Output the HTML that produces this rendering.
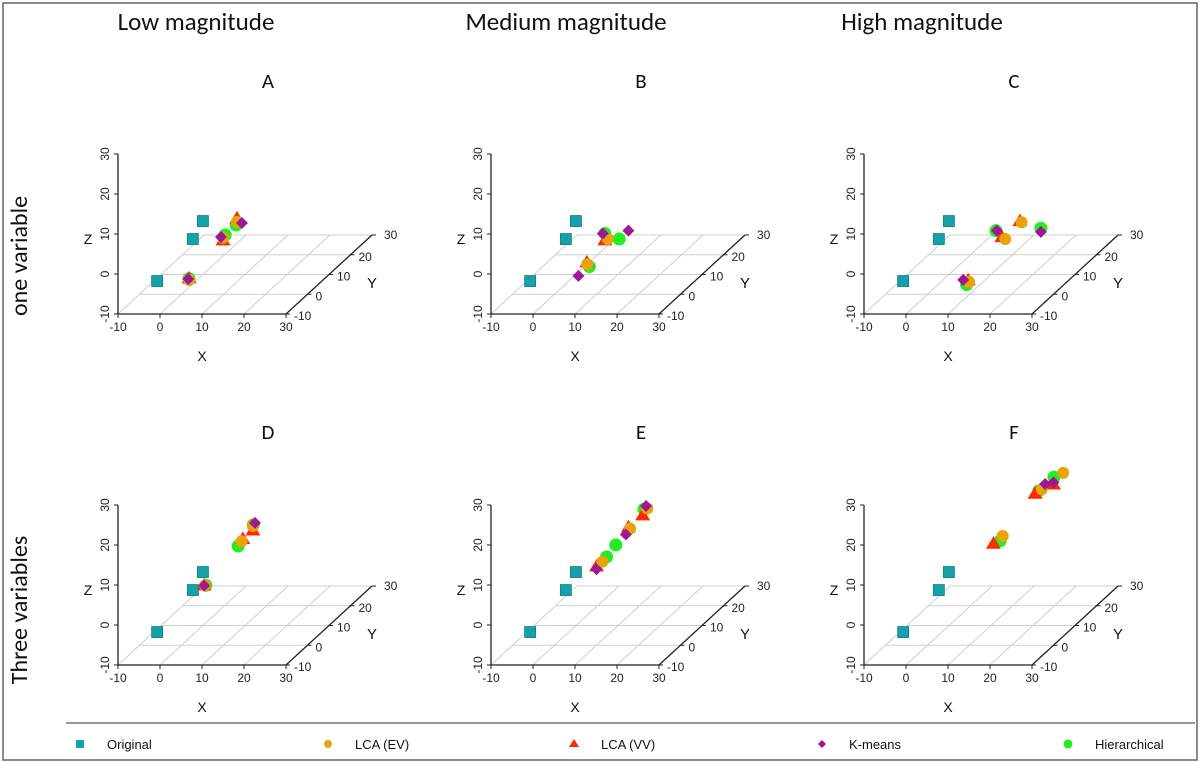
<!DOCTYPE html>
<html><head><meta charset="utf-8">
<style>
html,body{margin:0;padding:0;background:#fff;}
svg{display:block;font-family:"Liberation Sans",sans-serif;}
</style></head>
<body>
<svg id="fig" width="1200" height="763" viewBox="0 0 1200 763" xmlns="http://www.w3.org/2000/svg">
<rect x="3" y="3" width="1194" height="757" fill="#fff" stroke="#666" stroke-width="1.5"/>
<g font-family="Carlito,'Liberation Sans',sans-serif" fill="#111" text-anchor="middle">
<text x="196" y="30" font-size="25">Low magnitude</text>
<text x="566" y="30" font-size="25">Medium magnitude</text>
<text x="922" y="30" font-size="25">High magnitude</text>
<text transform="translate(27,256) rotate(-90)" font-size="24">one variable</text>
<text transform="translate(27,610) rotate(-90)" font-size="24">Three variables</text>
</g>
<line x1="66" y1="723" x2="1195" y2="723" stroke="#333" stroke-width="1"/>
<g id="legend" font-size="13" fill="#111"></g>
<g id="panels"></g>
</svg>
<script>
// Original points (same in every panel), y assumed 0
const origX = [-5.8, 2.7, 5.1];
const origZ = [-6.7, 3.8, 8.3];
const panelIds = ['A','B','C','D','E','F'];
// [x, z] pairs per panel
const lcaEV = {
  A: [[1.8,-6.4],[9.9,4.1],[13.2,8.1]],
  B: [[7.8,-2.5],[12.7,3.8]],
  C: [[9.9,-6.9],[18.5,3.8],[22.4,8.0]],
  D: [[5.6,5.0],[14.3,16.0],[17.0,19.8]],
  E: [[11.4,10.9],[18.0,19.2],[22.1,24.2]],
  F: [[17.9,17.3],[27.2,29.0],[32.3,33.1]]
};
const lcaVV = {
  A: [[1.8,-5.9],[9.9,3.6],[13.2,9.1]],
  B: [[7.7,-1.9],[12.0,3.6]],
  C: [[9.7,-6.4],[17.7,4.4],[22.0,8.4]],
  D: [[5.4,5.1],[14.6,16.7],[17.0,18.8]],
  E: [[10.0,9.8],[17.6,19.6],[21.0,22.6]],
  F: [[15.7,15.5],[25.6,28.0],[30.0,30.3]]
};
const kmeans = {
  A: [[1.6,-6.2],[9.4,4.3],[14.4,7.8]],
  B: [[5.7,-5.4],[11.5,5.2],[17.6,5.9]],
  C: [[8.5,-6.4],[16.5,5.9],[27.0,5.6]],
  D: [[5.4,4.9],[17.5,20.6]],
  E: [[10.0,9.0],[17.0,17.7],[21.8,24.8]],
  F: [[28.0,30.3],[30.0,30.7]]
};
const hier = {
  A: [[1.8,-6.1],[10.4,4.8],[13.0,7.3]],
  B: [[8.3,-3.1],[12.0,5.2],[15.4,3.8]],
  C: [[9.3,-7.6],[16.3,5.9],[27.0,6.5]],
  D: [[5.8,5.0],[13.5,14.8],[17.1,20.1]],
  E: [[12.4,12.1],[14.6,15.1],[21.3,24.0]],
  F: [[17.3,16.1],[26.5,28.6],[30.1,32.0]]
};
const tickVals = [-10, 0, 10, 20, 30];
const legendLabels = ['Original','LCA (EV)','LCA (VV)','K-means','Hierarchical'];

const NS = 'http://www.w3.org/2000/svg';
const colX = [118, 491, 864], rowY = [314, 665];
function mk(tag, attrs, parent){const e=document.createElementNS(NS,tag);for(const k in attrs)e.setAttribute(k,attrs[k]);parent.appendChild(e);return e;}
function proj(o, x, y, z){return [o[0]+(x+10)*4.2+(y+10)*2.15, o[1]-(z+10)*4-(y+10)*1.975];}

function marker(g, kind, cx, cy){
  let e;
  if(kind===0){e=mk('rect',{x:cx-5.5,y:cy-5.5,width:11,height:11,fill:'#17a0a8',stroke:'#0e7f88','stroke-width':0.8},g);}
  else if(kind===1){e=mk('circle',{cx:cx,cy:cy,r:6,fill:'#e8a30e'},g);}
  else if(kind===2){e=mk('polygon',{points:`${cx},${cy-7} ${cx-7.5},${cy+5.5} ${cx+7.5},${cy+5.5}`,fill:'#ff2a00'},g);}
  else if(kind===3){e=mk('polygon',{points:`${cx},${cy-6} ${cx+6},${cy} ${cx},${cy+6} ${cx-6},${cy}`,fill:'#9c1894'},g);}
  else {e=mk('circle',{cx:cx,cy:cy,r:6.5,fill:'#22ee22'},g);}
  return e;
}
const panelsG = document.getElementById('panels');
panelIds.forEach((id, i)=>{
  const o=[colX[i%3], rowY[Math.floor(i/3)]];
  const g=mk('g',{},panelsG);
  
  
  const t=mk('text',{x:o[0]+150,y:o[1]-226,'font-size':21,'text-anchor':'middle',fill:'#111','font-family':"Carlito,'Liberation Sans',sans-serif"},g);
  t.textContent=id;
  
  
  tickVals.forEach(v=>{
    const a=proj(o,-10,v,-10), b=proj(o,30,v,-10);
    if(v>-10){const l=mk('line',{x1:a[0],y1:a[1],x2:b[0],y2:b[1],stroke:'#cfcfcf','stroke-width':1},g);
      }
    const c=proj(o,v,-10,-10), d=proj(o,v,30,-10);
    if(v<30){const l2=mk('line',{x1:c[0],y1:c[1],x2:d[0],y2:d[1],stroke:'#cfcfcf','stroke-width':1},g);
      }
  });
  const zA=proj(o,-10,-10,-10), zB=proj(o,-10,-10,30), xB=proj(o,30,-10,-10), yB=proj(o,30,30,-10);
  [[zA,zB,'z-axis'],[zA,xB,'x-axis'],[xB,yB,'y-axis']].forEach(s=>{
    const l=mk('line',{x1:s[0][0],y1:s[0][1],x2:s[1][0],y2:s[1][1],stroke:'#222','stroke-width':1.3},g);
    
  });
  tickVals.forEach(v=>{
    const pz=proj(o,-10,-10,v);
    mk('line',{x1:pz[0]-4,y1:pz[1],x2:pz[0],y2:pz[1],stroke:'#222'},g);
    const tz=mk('text',{transform:`translate(${pz[0]-9},${pz[1]}) rotate(-90)`,'font-size':12,'text-anchor':'middle',fill:'#222'},g);
    tz.textContent=v;
    const px=proj(o,v,-10,-10);
    mk('line',{x1:px[0],y1:px[1],x2:px[0],y2:px[1]+4,stroke:'#222'},g);
    const tx=mk('text',{x:px[0],y:px[1]+17,'font-size':12,'text-anchor':'middle',fill:'#222'},g);
    tx.textContent=v;
    const py=proj(o,30,v,-10);
    mk('line',{x1:py[0],y1:py[1],x2:py[0]+4,y2:py[1],stroke:'#222'},g);
    const ty=mk('text',{x:py[0]+(v===30?12:8),y:py[1]+(v===30?4:6),'font-size':12,fill:'#222'},g);
    ty.textContent=v;
  });
  const lz=mk('text',{x:o[0]-30,y:o[1]-70,'font-size':14,'text-anchor':'middle',fill:'#111'},g);lz.textContent='Z';
  
  const lx=mk('text',{x:o[0]+84,y:o[1]+47,'font-size':14,'text-anchor':'middle',fill:'#111'},g);lx.textContent='X';
  
  const ly=mk('text',{x:o[0]+254,y:o[1]-26,'font-size':15,'text-anchor':'middle',fill:'#111'},g);ly.textContent='Y';
  
  origX.forEach((x,k)=>{const p=proj(o,x,0,origZ[k]);const m=marker(g,0,p[0],p[1]);
    });
  [[hier,4,'point-hierarchical'],[lcaVV,2,'point-lca-vv'],[lcaEV,1,'point-lca-ev'],[kmeans,3,'point-kmeans']].forEach(s=>{
    s[0][id].forEach(pt=>{const p=proj(o,pt[0],0,pt[1]);const m=marker(g,s[1],p[0],p[1]);
      });
  });
});
const lg=document.getElementById('legend');
const legX=[80,328,574,822,1068];
legendLabels.forEach((lab,k)=>{
  const g=mk('g',{},lg);
  
  
  const cx=legX[k], cy=744;
  if(k===0) mk('rect',{x:cx-4,y:cy-4,width:8,height:8,fill:'#17a0a8'},g);
  else if(k===1) mk('circle',{cx:cx,cy:cy,r:4,fill:'#e8a30e'},g);
  else if(k===2) mk('polygon',{points:`${cx},${cy-5} ${cx-5},${cy+3} ${cx+5},${cy+3}`,fill:'#ff2a00'},g);
  else if(k===3) mk('polygon',{points:`${cx},${cy-4} ${cx+4},${cy} ${cx},${cy+4} ${cx-4},${cy}`,fill:'#9c1894'},g);
  else mk('circle',{cx:cx,cy:cy,r:4.5,fill:'#22ee22'},g);
  const t=mk('text',{x:cx+27,y:cy+5,'font-size':13,fill:'#111'},g);
  t.textContent=lab;
});
</script>
</body></html>
